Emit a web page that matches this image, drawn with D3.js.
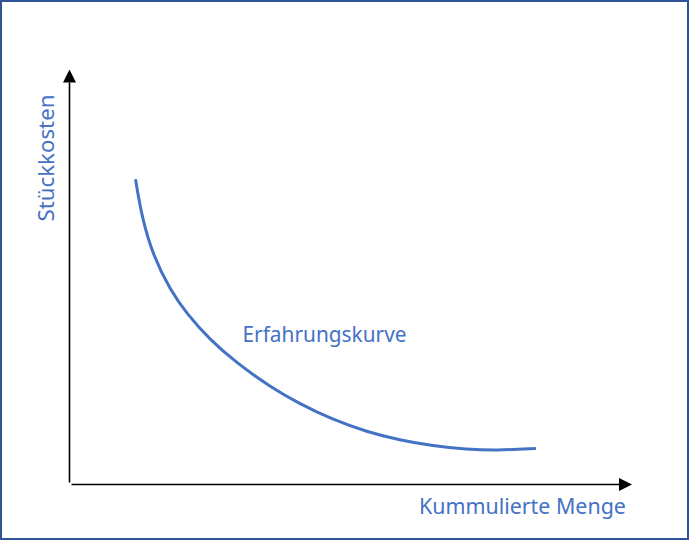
<!DOCTYPE html>
<html>
<head>
<meta charset="utf-8">
<script src="https://cdn.jsdelivr.net/npm/d3@7"></script>
<style>
html,body{margin:0;padding:0;background:#fff;}
svg{display:block;}
</style>
</head>
<body>
<svg id="chart" width="689" height="540"></svg>
<script>
// Data (cumulative quantity in % of axis, unit cost in % of axis)
const quantity = [11.7, 12.8, 14.9, 17.9, 20.8, 25.0, 29.8, 35.7, 41.1, 47.0, 53.0, 58.9, 64.8, 70.8, 76.2, 83.2];
const unitCost = [73.6, 64.6, 54.9, 46.9, 41.2, 34.8, 29.2, 23.5, 19.3, 15.5, 12.6, 10.6, 9.2, 8.4, 8.1, 8.6];
const xLabel = "Kummulierte Menge";
const yLabel = "Stückkosten";
const curveLabel = "Erfahrungskurve";

const W = 689, H = 540;
const svg = d3.select("#chart");
const blue = "#4472C4";
const font = "'Noto Sans', 'Open Sans', sans-serif";

const x = d3.scaleLinear().domain([0, 100]).range([70, 630]);
const y = d3.scaleLinear().domain([0, 100]).range([484, 70]);

// border
svg.append("rect").attr("x", 1).attr("y", 1).attr("width", W - 2).attr("height", H - 2)
  .attr("fill", "#fff").attr("stroke", "#2F5597").attr("stroke-width", 2);

// arrow marker
const defs = svg.append("defs");
defs.append("marker").attr("id", "arrow").attr("viewBox", "0 0 10 10")
  .attr("refX", 0).attr("refY", 5).attr("markerWidth", 13).attr("markerHeight", 13)
  .attr("markerUnits", "userSpaceOnUse").attr("orient", "auto")
  .append("path").attr("d", "M0,0 L10,5 L0,10 Z").attr("fill", "#000");

// axes
svg.append("line").attr("x1", x(0) - 0.5).attr("y1", y(0) - 1.5).attr("x2", x(0) - 0.5).attr("y2", y(100) + 12.5)
  .attr("stroke", "#000").attr("stroke-width", 1.6).attr("marker-end", "url(#arrow)");
svg.append("line").attr("x1", x(0) + 1.5).attr("y1", y(0) + 0.5).attr("x2", x(100) - 11).attr("y2", y(0) + 0.5)
  .attr("stroke", "#000").attr("stroke-width", 1.6).attr("marker-end", "url(#arrow)");

// curve
const pts = quantity.map((q, i) => [q, unitCost[i]]);
const line = d3.line().x(d => x(d[0])).y(d => y(d[1])).curve(d3.curveBasis);
svg.append("path").datum(pts).attr("d", line).attr("fill", "none")
  .attr("stroke", blue).attr("stroke-width", 3).attr("stroke-linecap", "butt");

function fitText(sel, target) {
  const w = sel.node().getComputedTextLength();
  const fs = parseFloat(sel.attr("font-size"));
  sel.attr("font-size", fs * target / w);
}

// labels
const tx = svg.append("text").attr("x", 419).attr("y", 513.5).attr("fill", blue)
  .attr("font-family", font).attr("font-size", 20).text(xLabel);
fitText(tx, 207);

const ty = svg.append("text").attr("transform", "translate(54,158) rotate(-90)")
  .attr("text-anchor", "middle").attr("fill", blue)
  .attr("font-family", font).attr("font-size", 20).text(yLabel);
fitText(ty, 127);

const tc = svg.append("text").attr("x", 242.5).attr("y", 341.5).attr("fill", blue)
  .attr("font-family", font).attr("font-size", 20).text(curveLabel);
fitText(tc, 164);
</script>
</body>
</html>
